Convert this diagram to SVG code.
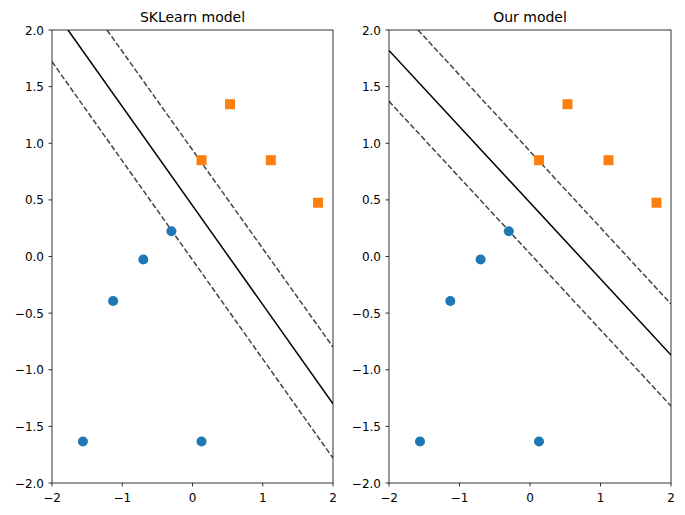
<svg xmlns="http://www.w3.org/2000/svg" width="685" height="515" viewBox="0 0 685 515">
<style>
text{font-family:"DejaVu Sans",sans-serif;font-size:12px;fill:#000}
.t{font-size:14px;text-anchor:middle}
.xl{text-anchor:middle}
.yl{text-anchor:end}
.ax{fill:none;stroke:#000;stroke-width:0.8}
.tk{stroke:#000;stroke-width:0.8}
.s{stroke:#000;stroke-width:1.5;fill:none}
.d{stroke:#444;stroke-width:1.5;fill:none;stroke-dasharray:5.5,2.4}
.c{fill:#1f77b4}
.q{fill:#ff7f0e}
</style>
<defs>
<clipPath id="cl"><rect x="52" y="30" width="281" height="453"/></clipPath>
<clipPath id="cr"><rect x="389" y="30" width="282" height="453"/></clipPath>
</defs>
<rect width="685" height="515" fill="#fff"/>
<g id="left">
<g id="connectors-left" clip-path="url(#cl)">
<line class="s" x1="68" y1="30" x2="333" y2="403.7"/>
<line class="d" x1="107" y1="30" x2="333" y2="347.1"/>
<line class="d" x1="52" y1="61.7" x2="333" y2="458.1"/>
</g>
<g id="pts-left">
<circle class="c" cx="82.9" cy="441.5" r="5"/>
<circle class="c" cx="113.1" cy="301" r="5"/>
<circle class="c" cx="143.3" cy="259.5" r="5"/>
<circle class="c" cx="171.4" cy="231.2" r="5"/>
<circle class="c" cx="201.5" cy="441.5" r="5"/>
<rect class="q" x="196.5" y="155.2" width="10" height="10"/>
<rect class="q" x="225" y="99.2" width="10" height="10"/>
<rect class="q" x="265.8" y="155.2" width="10" height="10"/>
<rect class="q" x="313" y="197.7" width="10" height="10"/>
</g>
<rect class="ax" x="52" y="30" width="281" height="453"/>
<text class="t" x="192.5" y="22">SKLearn model</text>
<g class="tk">
<line x1="52" y1="483" x2="52" y2="486.5"/><line x1="122.25" y1="483" x2="122.25" y2="486.5"/><line x1="192.5" y1="483" x2="192.5" y2="486.5"/><line x1="262.75" y1="483" x2="262.75" y2="486.5"/><line x1="333" y1="483" x2="333" y2="486.5"/>
<line x1="48.5" y1="30" x2="52" y2="30"/><line x1="48.5" y1="86.6" x2="52" y2="86.6"/><line x1="48.5" y1="143.25" x2="52" y2="143.25"/><line x1="48.5" y1="199.9" x2="52" y2="199.9"/><line x1="48.5" y1="256.5" x2="52" y2="256.5"/><line x1="48.5" y1="313.1" x2="52" y2="313.1"/><line x1="48.5" y1="369.75" x2="52" y2="369.75"/><line x1="48.5" y1="426.4" x2="52" y2="426.4"/><line x1="48.5" y1="483" x2="52" y2="483"/>
</g>
<text class="xl" x="52" y="502">−2</text><text class="xl" x="122.25" y="502">−1</text><text class="xl" x="192.5" y="502">0</text><text class="xl" x="262.75" y="502">1</text><text class="xl" x="333" y="502">2</text>
<text class="yl" x="44" y="34.5">2.0</text><text class="yl" x="44" y="91.1">1.5</text><text class="yl" x="44" y="147.75">1.0</text><text class="yl" x="44" y="204.4">0.5</text><text class="yl" x="44" y="261">0.0</text><text class="yl" x="44" y="317.6">−0.5</text><text class="yl" x="44" y="374.25">−1.0</text><text class="yl" x="44" y="430.9">−1.5</text><text class="yl" x="44" y="487.5">−2.0</text>
</g>
<g id="right">
<g id="connectors-right" clip-path="url(#cr)">
<line class="s" x1="389" y1="50.4" x2="671" y2="355"/>
<line class="d" x1="418" y1="30" x2="671" y2="304"/>
<line class="d" x1="389" y1="101.3" x2="671" y2="406"/>
</g>
<g id="pts-right">
<circle class="c" cx="420" cy="441.5" r="5"/>
<circle class="c" cx="450.3" cy="301" r="5"/>
<circle class="c" cx="480.6" cy="259.5" r="5"/>
<circle class="c" cx="508.8" cy="231.2" r="5"/>
<circle class="c" cx="539" cy="441.5" r="5"/>
<rect class="q" x="534" y="155.2" width="10" height="10"/>
<rect class="q" x="562.5" y="99.2" width="10" height="10"/>
<rect class="q" x="603.5" y="155.2" width="10" height="10"/>
<rect class="q" x="651.5" y="197.7" width="10" height="10"/>
</g>
<rect class="ax" x="389" y="30" width="282" height="453"/>
<text class="t" x="530" y="22">Our model</text>
<g class="tk">
<line x1="389" y1="483" x2="389" y2="486.5"/><line x1="459.5" y1="483" x2="459.5" y2="486.5"/><line x1="530" y1="483" x2="530" y2="486.5"/><line x1="600.5" y1="483" x2="600.5" y2="486.5"/><line x1="671" y1="483" x2="671" y2="486.5"/>
<line x1="385.5" y1="30" x2="389" y2="30"/><line x1="385.5" y1="86.6" x2="389" y2="86.6"/><line x1="385.5" y1="143.25" x2="389" y2="143.25"/><line x1="385.5" y1="199.9" x2="389" y2="199.9"/><line x1="385.5" y1="256.5" x2="389" y2="256.5"/><line x1="385.5" y1="313.1" x2="389" y2="313.1"/><line x1="385.5" y1="369.75" x2="389" y2="369.75"/><line x1="385.5" y1="426.4" x2="389" y2="426.4"/><line x1="385.5" y1="483" x2="389" y2="483"/>
</g>
<text class="xl" x="389" y="502">−2</text><text class="xl" x="459.5" y="502">−1</text><text class="xl" x="530" y="502">0</text><text class="xl" x="600.5" y="502">1</text><text class="xl" x="671" y="502">2</text>
<text class="yl" x="381" y="34.5">2.0</text><text class="yl" x="381" y="91.1">1.5</text><text class="yl" x="381" y="147.75">1.0</text><text class="yl" x="381" y="204.4">0.5</text><text class="yl" x="381" y="261">0.0</text><text class="yl" x="381" y="317.6">−0.5</text><text class="yl" x="381" y="374.25">−1.0</text><text class="yl" x="381" y="430.9">−1.5</text><text class="yl" x="381" y="487.5">−2.0</text>
</g>
</svg>
